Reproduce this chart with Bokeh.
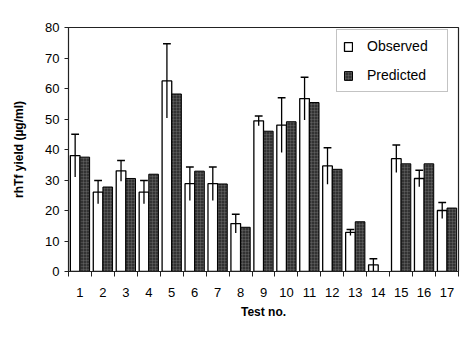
from bokeh.plotting import figure
from bokeh.models import FixedTicker, Legend, LegendItem, ColumnDataSource
from bokeh.embed import file_html
from bokeh.resources import INLINE

tests = list(range(1, 18))
tick_labels = [str(t) for t in tests]
observed = [38, 26, 33, 26, 62.5, 28.8, 28.8, 15.7, 49.4, 48, 56.7, 34.6, 12.8, 2.2, 37, 30.5, 20]
obs_err = [7, 3.8, 3.4, 3.8, 12.2, 5.5, 5.5, 3.1, 1.6, 9, 7, 6, 1, 2, 4.5, 2.7, 2.6]
predicted = [37.5, 27.7, 30.5, 31.9, 58.2, 32.9, 28.7, 14.5, 46, 49.1, 55.4, 33.5, 16.3, 0, 35.3, 35.3, 20.8]

FONT = "Liberation Sans"

p = figure(width=474, height=353, output_backend="svg", toolbar_location=None,
           x_range=(0.5, 17.5), y_range=(0, 80),
           min_border_left=68, min_border_right=16, min_border_top=27, min_border_bottom=82)
p.xgrid.visible = False
p.ygrid.visible = False
p.outline_line_color = "#222222"
p.outline_line_width = 1.2
p.background_fill_color = "white"
p.border_fill_color = "white"

obs_x = [t - 0.21 for t in tests]
pred_x = [t + 0.21 for t in tests]
src_o = ColumnDataSource(dict(x=obs_x, top=observed,
                              lo=[o - e for o, e in zip(observed, obs_err)],
                              hi=[o + e for o, e in zip(observed, obs_err)],
                              cl=[x - 0.17 for x in obs_x],
                              cr=[x + 0.17 for x in obs_x]))
src_p = ColumnDataSource(dict(x=pred_x, top=predicted))

r_obs = p.vbar(x="x", top="top", width=0.42, source=src_o, fill_color="white",
               line_color="black", line_width=1.3)
r_pred = p.vbar(x="x", top="top", width=0.42, source=src_p, fill_color="#333333",
                line_color="black", line_width=1.0, hatch_pattern="+",
                hatch_color="#7a7a7a", hatch_scale=3, hatch_weight=0.5, hatch_alpha=0.7)

p.segment(x0="x", y0="lo", x1="x", y1="hi", source=src_o, line_color="black", line_width=1.3)
p.segment(x0="cl", y0="hi", x1="cr", y1="hi", source=src_o, line_color="black", line_width=1.5)

xa = p.xaxis[0]
xa.ticker = FixedTicker(ticks=tests, minor_ticks=[t + 0.5 for t in range(0, 18)])
xa.major_label_overrides = {t: l for t, l in zip(tests, tick_labels)}
xa.major_tick_out = 0
xa.major_tick_in = 0
xa.minor_tick_out = 5
xa.minor_tick_in = 0
xa.axis_line_color = "#222222"
xa.minor_tick_line_color = "#222222"
xa.major_label_text_font = FONT
xa.major_label_text_font_size = "13px"
xa.major_label_text_color = "black"
xa.major_label_standoff = 11
xa.axis_label = "Test no."
xa.axis_label_text_font = FONT
xa.axis_label_text_font_size = "12px"
xa.axis_label_text_font_style = "bold"
xa.axis_label_text_color = "black"
xa.axis_label_standoff = 5

ya = p.yaxis[0]
ya.ticker = FixedTicker(ticks=list(range(0, 81, 10)), minor_ticks=[])
ya.major_tick_out = 4
ya.major_tick_in = 0
ya.axis_line_color = "#222222"
ya.major_tick_line_color = "#222222"
ya.major_label_text_font = FONT
ya.major_label_text_font_size = "13px"
ya.major_label_text_color = "black"
ya.major_label_standoff = 5
ya.axis_label = "rhTf yield (µg/ml)"
ya.axis_label_text_font = FONT
ya.axis_label_text_font_size = "12px"
ya.axis_label_text_font_style = "bold"
ya.axis_label_text_color = "black"
ya.axis_label_standoff = 16

legend = Legend(items=[LegendItem(label="Observed", renderers=[r_obs]),
                       LegendItem(label="Predicted", renderers=[r_pred])],
                location=(268, 179))
legend.label_text_font = FONT
legend.label_text_font_size = "14px"
legend.label_text_color = "black"
legend.glyph_width = 10
legend.glyph_height = 11
legend.label_standoff = 14
legend.label_height = 20
legend.label_width = 74
legend.spacing = 9
legend.padding = 6
legend.margin = 0
legend.border_line_color = "#888888"
legend.border_line_width = 1
legend.background_fill_alpha = 1
p.add_layout(legend)

open("out.html", "w").write(file_html(p, INLINE))
